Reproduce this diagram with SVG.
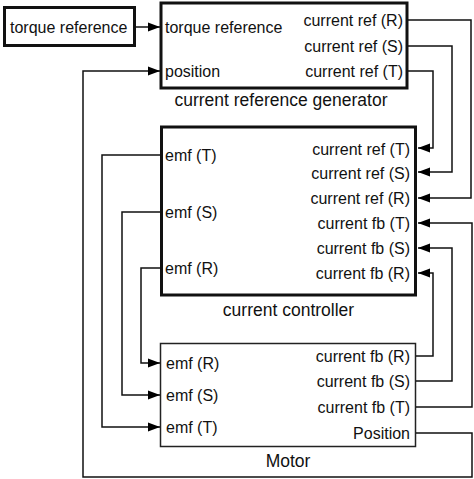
<svg xmlns="http://www.w3.org/2000/svg" width="474" height="479" viewBox="0 0 474 479">
<defs>
<marker id="a" markerWidth="12" markerHeight="10" refX="12" refY="5" orient="auto" markerUnits="userSpaceOnUse"><path d="M0,0.5 L12,5 L0,9.5 z" fill="#000"/></marker>
<style>
text{font-family:"Liberation Sans",Arial,sans-serif;font-size:16px;fill:#111}
.e{text-anchor:end}
.m{text-anchor:middle;font-size:17.5px}
.thick{fill:#fff;stroke:#111;stroke-width:3}
.thin{fill:#fff;stroke:#222;stroke-width:1.5}
#conn path{fill:none;stroke:#111;stroke-width:1.5}
</style>
</defs>
<rect width="474" height="479" fill="#fff"/>
<g id="torque-ref">
<rect class="thick" x="4.5" y="7.5" width="130" height="38"/>
<text x="10" y="33">torque reference</text>
</g>
<g id="crg">
<rect class="thick" x="161" y="3" width="246" height="85"/>
<text x="165" y="33">torque reference</text>
<text x="165" y="77">position</text>
<text class="e" x="403" y="26">current ref (R)</text>
<text class="e" x="403" y="52">current ref (S)</text>
<text class="e" x="403" y="77">current ref (T)</text>
<text class="m" x="281" y="106">current reference generator</text>
</g>
<g id="cc">
<rect class="thick" x="161.5" y="127" width="254" height="168"/>
<text x="165" y="161">emf (T)</text>
<text x="165" y="218">emf (S)</text>
<text x="165" y="274">emf (R)</text>
<text class="e" x="410" y="155">current ref (T)</text>
<text class="e" x="410" y="179">current ref (S)</text>
<text class="e" x="410" y="204">current ref (R)</text>
<text class="e" x="410" y="229">current fb (T)</text>
<text class="e" x="410" y="254">current fb (S)</text>
<text class="e" x="410" y="279">current fb (R)</text>
<text class="m" x="288.5" y="316">current controller</text>
</g>
<g id="motor">
<rect class="thin" x="160.5" y="343.5" width="255" height="103"/>
<text x="166" y="369">emf (R)</text>
<text x="166" y="401">emf (S)</text>
<text x="166" y="433">emf (T)</text>
<text class="e" x="410" y="362">current fb (R)</text>
<text class="e" x="410" y="387">current fb (S)</text>
<text class="e" x="410" y="413">current fb (T)</text>
<text class="e" x="410" y="439">Position</text>
<text class="m" x="288" y="467">Motor</text>
</g>
<g id="conn">
<path d="M136,27 H160" marker-end="url(#a)"/>
<path d="M408,20 H471 V198 H418" marker-end="url(#a)"/>
<path d="M408,46 H452 V172 H418" marker-end="url(#a)"/>
<path d="M408,71 H433 V148 H418" marker-end="url(#a)"/>
<path d="M160,155 H102 V427 H160" marker-end="url(#a)"/>
<path d="M160,212 H122 V395 H160" marker-end="url(#a)"/>
<path d="M160,268 H141 V363 H160" marker-end="url(#a)"/>
<path d="M416,356 H433 V273 H418" marker-end="url(#a)"/>
<path d="M416,381 H452 V248 H418" marker-end="url(#a)"/>
<path d="M416,407 H472 V223 H418" marker-end="url(#a)"/>
<path d="M416,433 H472 V477 H83 V71 H160" marker-end="url(#a)"/>
</g>
</svg>
